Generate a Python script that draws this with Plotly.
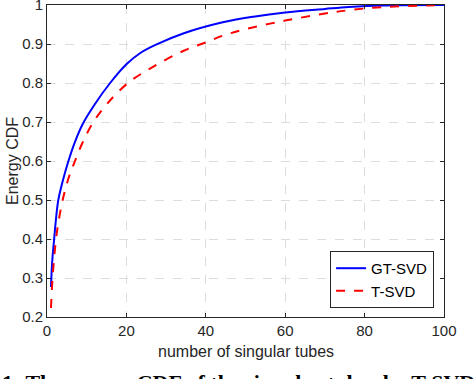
import plotly.graph_objects as go

# GT-SVD curve
gt_x = [1, 1.3, 1.8, 2.3, 2.85, 4, 5.4, 7, 9, 12, 15.9, 20, 23.5, 27.6, 34.3, 44, 52, 60, 70, 76, 85, 100]
gt_y = [0.277, 0.34, 0.40, 0.455, 0.50, 0.55, 0.60, 0.648, 0.695, 0.745, 0.80, 0.848, 0.877, 0.899, 0.927,
        0.955, 0.97, 0.981, 0.99, 0.995, 0.999, 1.0]

# T-SVD curve
t_x = [1, 1.4, 2.27, 3, 3.95, 5.4, 7.05, 9, 11.7, 15, 20.4, 26.8, 34.3, 40.2, 44.5, 50, 60, 70, 76.3, 85, 100]
t_y = [0.223, 0.30, 0.40, 0.45, 0.50, 0.555, 0.60, 0.648, 0.70, 0.745, 0.80, 0.842, 0.882, 0.905, 0.922,
       0.938, 0.960, 0.978, 0.987, 0.995, 1.0]

x_ticks = [0, 20, 40, 60, 80, 100]
y_ticks = [0.2, 0.3, 0.4, 0.5, 0.6, 0.7, 0.8, 0.9, 1]
y_tick_text = ["0.2", "0.3", "0.4", "0.5", "0.6", "0.7", "0.8", "0.9", "1"]

x_title = "number of singular tubes"
y_title = "Energy CDF"
caption = "1: The energy CDF of the singular tubes by T-SVD"

font_fam = "Liberation Sans, Arial, sans-serif"
txt_col = "#262626"

fig = go.Figure()
fig.add_trace(go.Scatter(x=gt_x, y=gt_y, mode="lines", name="GT-SVD",
                         line=dict(color="#0000ff", width=2, shape="spline", smoothing=1)))
fig.add_trace(go.Scatter(x=t_x, y=t_y, mode="lines", name="T-SVD",
                         line=dict(color="#ff0000", width=2, dash="dash", shape="spline", smoothing=1)))

axis_common = dict(showline=True, linecolor=txt_col, linewidth=1, mirror="ticks",
                   ticks="inside", ticklen=4, tickcolor=txt_col,
                   showgrid=True, gridcolor="#dcdcdc", griddash="dash", gridwidth=1,
                   zeroline=False, automargin=False, ticklabeloverflow="allow",
                   tickfont=dict(family=font_fam, size=15, color=txt_col))

fig.update_xaxes(range=[0, 100], tickvals=x_ticks, **axis_common)
fig.update_yaxes(range=[0.2, 1], tickvals=y_ticks, ticktext=y_tick_text, **axis_common)

fig.update_layout(
    width=474, height=379, autosize=False,
    margin=dict(l=47, r=30, t=5, b=62),
    plot_bgcolor="white", paper_bgcolor="white",
    legend=dict(x=0.975, y=0.029, xanchor="right", yanchor="bottom",
                bgcolor="white", bordercolor=txt_col, borderwidth=1,
                font=dict(family=font_fam, size=15, color="#000000"),
                tracegroupgap=0, itemwidth=30),
    showlegend=True,
)

fig.add_annotation(text=x_title, xref="paper", yref="paper", x=0.5, y=(317 - 351) / 312,
                   xanchor="center", yanchor="middle", showarrow=False,
                   font=dict(family=font_fam, size=16, color=txt_col))
fig.add_annotation(text=y_title, xref="paper", yref="paper", x=(12 - 47) / 397, y=0.5,
                   xanchor="center", yanchor="middle", textangle=-90, showarrow=False,
                   font=dict(family=font_fam, size=16, color=txt_col))
fig.add_annotation(text="<b>" + caption + "</b>",
                   xref="paper", yref="paper", x=(0 - 47) / 397, y=(317 - 368) / 312,
                   xanchor="left", yanchor="top", showarrow=False,
                   font=dict(family="Liberation Serif, Times New Roman, serif", size=22, color="#000000"))

fig.write_html("out.html", config={"displayModeBar": False},
               post_script="document.body.style.margin='0px';")
